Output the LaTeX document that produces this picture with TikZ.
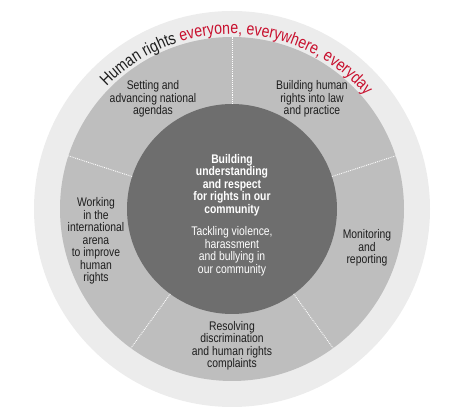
\documentclass[tikz,border=0pt]{standalone}
\usepackage{fontspec}
\setmainfont{Liberation Sans}[FakeStretch=0.83]
\usetikzlibrary{positioning,decorations.text}

\definecolor{halogrey}{HTML}{ECECEC}
\definecolor{ringgrey}{HTML}{BEBEBE}
\definecolor{hubgrey}{HTML}{6E6E6E}
\definecolor{labelink}{HTML}{1E1E1E}
\definecolor{rightsred}{HTML}{C8102E}

\begin{document}
\begin{tikzpicture}[
    x=1pt,y=1pt,
    every node/.style={align=center,font=\fontsize{12.5}{12.5}\selectfont},
    disc/.style={circle,draw=none,inner sep=0pt,outer sep=0pt},
    halo/.style={disc,fill=halogrey,minimum size=396},
    ring/.style={disc,fill=ringgrey,minimum size=344},
    hub/.style={disc,fill=hubgrey,minimum size=210},
    area/.style={text=labelink},
    hubtext/.style={text=white},
    divider/.style={white,densely dotted,line width=0.9pt}
]
\useasboundingbox (0,0) rectangle (474,417);

% =====================
% DISCS
% =====================
\coordinate (c) at (232,208);
\node[halo] (halo) at (c) {};
\node[ring] (ring) at (c) {};
\node[hub] (hub) at (c) {};

% Dotted dividers between the five areas
\foreach \a in {90,18,-54,-126,162}
  \draw[divider] (hub.\a) -- (ring.\a);

% =====================
% TITLE ARC
% =====================
\path[decorate,decoration={text along path,text align=center,
  text={|\fontsize{17}{17}\selectfont\color{labelink}|Human rights |\fontsize{17}{17}\selectfont\color{rightsred}|everyone, everywhere, everyday}}]
  ([shift={(137:175)}]c) arc[start angle=137,end angle=39,radius=175];

% =====================
% CENTRE
% =====================
\node[hubtext] (core) at ([shift={(0,-6)}]c) {
\textbf{Building}\\
\textbf{understanding}\\
\textbf{and respect}\\
\textbf{for rights in our}\\
\textbf{community}\\[10pt]
Tackling violence,\\
harassment\\
and bullying in\\
our community
};

% =====================
% AREAS
% =====================
\node[area] (agendas) at ([shift={(-79,110)}]c) {
Setting and\\
advancing national\\
agendas
};

\node[area] (law) at ([shift={(80,110)}]c) {
Building human\\
rights into law\\
and practice
};

\node[area] (monitor) at ([shift={(135,-39)}]c) {
Monitoring\\
and\\
reporting
};

\node[area] (complaints) at ([shift={(0,-137)}]c) {
Resolving\\
discrimination\\
and human rights\\
complaints
};

\node[area] (international) at ([shift={(-136,-32)}]c) {
Working\\
in the\\
international\\
arena\\
to improve\\
human\\
rights
};

\end{tikzpicture}
\end{document}
